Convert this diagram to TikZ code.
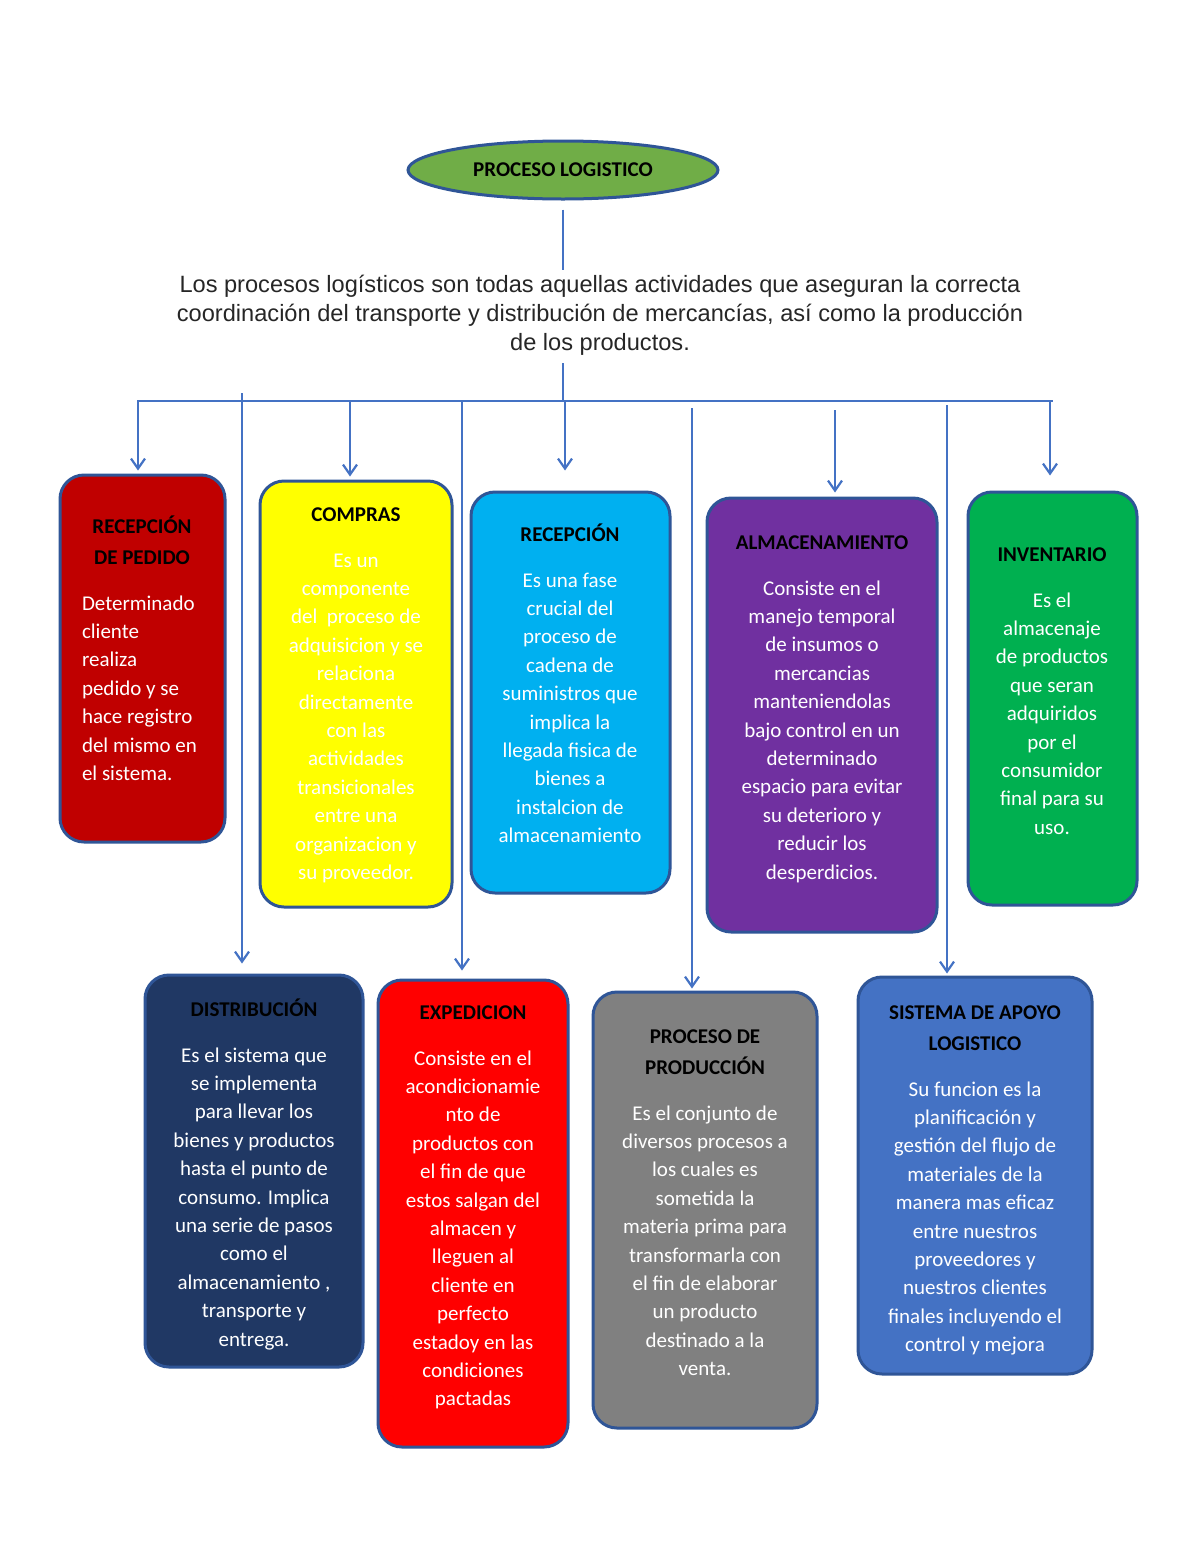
\documentclass[tikz,border=0pt]{standalone}
\usepackage{fontspec}
\usepackage{xcolor}
\usetikzlibrary{shapes.geometric,arrows.meta}
\setmainfont{Liberation Sans}
\newfontfamily\calfont{Carlito}
\definecolor{bordc}{HTML}{2F5597}
\definecolor{connc}{HTML}{4472C4}
\definecolor{ellg}{HTML}{70AD47}
\definecolor{fRed}{HTML}{C00000}
\definecolor{fYel}{HTML}{FFFF00}
\definecolor{fCya}{HTML}{00B0F0}
\definecolor{fPur}{HTML}{7030A0}
\definecolor{fGrn}{HTML}{00B050}
\definecolor{fNav}{HTML}{203864}
\definecolor{fBrd}{HTML}{FF0000}
\definecolor{fGry}{HTML}{808080}
\definecolor{fBlu}{HTML}{4472C4}
\definecolor{paratext}{HTML}{262626}
\newcommand\ttlf{\calfont\bfseries\fontsize{10.5}{15.5}\selectfont\color{black}}
\newcommand\bdyf{\calfont\mdseries\fontsize{10.5}{14.2}\selectfont\color{white}}
\newcommand\boxtext[3]{\parbox[t]{#1}{\centering\leavevmode\ttlf #2\par\vspace{8.8pt}\bdyf #3\par}}
\setlength{\parskip}{0pt}
\begin{document}
\begin{tikzpicture}[x=0.5pt,y=-0.5pt,
  cbox/.style={draw=bordc, line width=1.5pt, rounded corners=12pt, inner sep=0pt},
  conn/.style={draw=connc, line width=1.2pt},
  arr/.style={conn, -{Straight Barb[length=5pt,width=7pt,line width=1.1pt]}},
  txt/.style={inner sep=0pt, anchor=base}]
\useasboundingbox[fill=white] (0,0) rectangle (1200,1553);

% top
\node[ellipse, draw=bordc, line width=1.5pt, fill=ellg, minimum width=155pt, minimum height=29pt, inner sep=0pt] (el) at (563,170) {\calfont\bfseries\fontsize{10.5}{12}\selectfont PROCESO LOGISTICO};
\node[txt] (pt) at (600,292) {\parbox[t]{460pt}{\centering\leavevmode\fontsize{11.8}{14.5}\selectfont\color{paratext}Los procesos logísticos son todas aquellas actividades que aseguran la correcta\\coordinación del transporte y distribución de mercancías, así como la producción\\de los productos.}};

% boxes
\node[cbox, fill=fRed, minimum width=82.5pt, minimum height=183.5pt] (r1) at (142.5,658.5) {};
\node[cbox, fill=fYel, minimum width=96pt, minimum height=213pt] (c2) at (356,694) {};
\node[cbox, fill=fCya, minimum width=99.5pt, minimum height=200.5pt] (r3) at (570.5,692.5) {};
\node[cbox, fill=fPur, minimum width=115pt, minimum height=217pt] (a4) at (822,715) {};
\node[cbox, fill=fGrn, minimum width=84.5pt, minimum height=206.5pt] (i5) at (1052.5,698.5) {};
\node[cbox, fill=fNav, minimum width=109pt, minimum height=196pt] (d6) at (254,1171) {};
\node[cbox, fill=fBrd, minimum width=95pt, minimum height=233.5pt] (e7) at (473,1213.5) {};
\node[cbox, fill=fGry, minimum width=112pt, minimum height=218pt] (p8) at (705,1210) {};
\node[cbox, fill=fBlu, minimum width=117pt, minimum height=198.5pt] (s9) at (975,1175.5) {};

% box texts
\node[txt] (r1t) at (142,533) {\parbox[t]{74pt}{\centering\leavevmode\ttlf RECEPCIÓN\\DE PEDIDO\par\vspace{8.8pt}\bdyf\raggedright\leftskip=7pt Determinado\\cliente\\realiza\\pedido y se\\hace registro\\del mismo en\\el sistema.\par}};
\node[txt] (c2t) at (356,521) {\boxtext{94pt}{COMPRAS}{Es un\\componente\\del\ \ proceso de\\adquisicion y se\\relaciona\\directamente\\con las\\actividades\\transicionales\\entre una\\organizacion y\\su proveedor.}};
\node[txt] (r3t) at (570,541) {\boxtext{97pt}{RECEPCIÓN}{Es una fase\\crucial del\\proceso de\\cadena de\\suministros que\\implica la\\llegada fisica de\\bienes a\\instalcion de\\almacenamiento}};
\node[txt] (a4t) at (822,549) {\boxtext{113pt}{ALMACENAMIENTO}{Consiste en el\\manejo temporal\\de insumos o\\mercancias\\manteniendolas\\bajo control en un\\determinado\\espacio para evitar\\su deterioro y\\reducir los\\desperdicios.}};
\node[txt] (i5t) at (1052,561) {\boxtext{82pt}{INVENTARIO}{Es el\\almacenaje\\de productos\\que seran\\adquiridos\\por el\\consumidor\\final para su\\uso.}};
\node[txt] (d6t) at (254,1016) {\boxtext{107pt}{DISTRIBUCIÓN}{Es el sistema que\\se implementa\\para llevar los\\bienes y productos\\hasta el punto de\\consumo. Implica\\una serie de pasos\\como el\\almacenamiento ,\\transporte y\\entrega.}};
\node[txt] (e7t) at (473,1019) {\boxtext{93pt}{EXPEDICION}{Consiste en el\\acondicionamie\\nto de\\productos con\\el fin de que\\estos salgan del\\almacen y\\lleguen al\\cliente en\\perfecto\\estadoy en las\\condiciones\\pactadas}};
\node[txt] (p8t) at (705,1043) {\boxtext{110pt}{PROCESO DE\\PRODUCCIÓN}{Es el conjunto de\\diversos procesos a\\los cuales es\\sometida la\\materia prima para\\transformarla con\\el fin de elaborar\\un producto\\destinado a la\\venta.}};
\node[txt] (s9t) at (975,1019) {\boxtext{115pt}{SISTEMA DE APOYO\\LOGISTICO}{Su funcion es la\\planificación y\\gestión del flujo de\\materiales de la\\manera mas eficaz\\entre nuestros\\proveedores y\\nuestros clientes\\finales incluyendo el\\control y mejora}};

% connectors
\coordinate (busL) at (137,401);
\coordinate (busR) at (1053,401);
\coordinate (busC) at (563,401);
\draw[conn] ([yshift=-4.5pt]el.south) -- ++(0,-30pt);
\draw[conn] (busC) -- ++(0,19pt);
\draw[conn] (busL) -- (busR);
\draw[arr, shorten >=1.5pt] (138,401) -- (138,0 |- r1.north);
\draw[arr, shorten >=1.5pt] (350,401) -- (350,0 |- c2.north);
\draw[arr, shorten >=10pt] (565,401) -- (565,0 |- r3.north);
\draw[arr, shorten >=2pt] (835,410) -- (835,0 |- a4.north);
\draw[arr, shorten >=7.5pt] (1050,401) -- (1050,0 |- i5.north);
\draw[arr, shorten >=5pt] (242,393) -- (242,0 |- d6.north);
\draw[arr, shorten >=4pt] (462,401) -- (462,0 |- e7.north);
\draw[arr, shorten >=1pt] (692,408) -- (692,0 |- p8.north);
\draw[arr, shorten >=1pt] (947,405) -- (947,0 |- s9.north);
\end{tikzpicture}
\end{document}
